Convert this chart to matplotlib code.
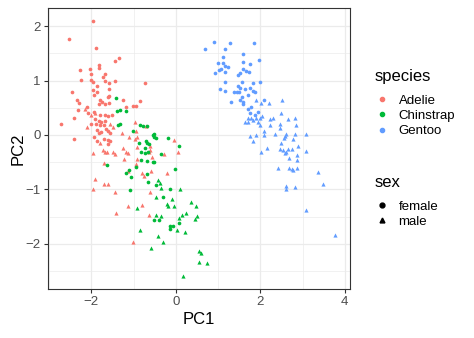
import numpy as np
import matplotlib
matplotlib.use('Agg')
import matplotlib.pyplot as plt
from matplotlib.lines import Line2D

plt.rcParams['font.family'] = ['Liberation Sans', 'DejaVu Sans']

# PC scores, per species and sex
adelie_f = [(-1.97,2.10),(-2.53,1.76),(-1.88,1.60),(-1.34,1.41),(-1.45,1.36),(-2.26,1.19),(-1.81,1.28),(-1.81,1.23),
            (-2.03,1.21),(-2.00,1.12),(-1.67,1.12),(-1.73,1.06),(-2.24,1.01),(-2.01,1.01),(-1.97,0.98),(-1.68,1.00),
            (-1.59,0.95),(-1.45,0.99),(-0.74,0.96),(-1.87,0.89),(-1.96,0.83),(-1.59,0.85),(-2.45,0.79),(-1.86,0.79),
            (-1.58,0.72),(-1.61,0.69),(-2.35,0.65),(-2.29,0.59),(-1.80,0.65),(-1.75,0.61),(-1.26,0.64),(-1.58,0.59),
            (-1.68,0.56),(-1.83,0.56),(-0.85,0.62),(-0.95,0.54),(-1.02,0.54),(-1.18,0.52),(-2.11,0.51),(-2.31,0.45),
            (-2.07,0.40),(-1.79,0.37),(-1.68,0.37),(-1.60,0.35),(-1.52,0.37),(-2.41,0.31),(-1.91,0.29),(-1.83,0.26),
            (-1.77,0.23),(-1.68,0.26),(-2.73,0.21),(-2.01,0.21),(-1.89,0.20),(-1.79,0.18),(-1.71,0.18),(-1.87,0.09),
            (-1.81,0.03),(-1.78,0.06),(-1.65,0.10),(-1.60,0.08),(-1.56,0.03),(-2.41,-0.07),(-1.93,-0.03),(-1.87,-0.12),
            (-1.71,-0.08),(-1.61,-0.09),(-1.56,-0.12),(-1.60,-0.17),(-1.94,0.73),(-1.94,0.42)]
adelie_m = [(-2.14,0.47),(-1.91,0.41),(-2.11,0.15),(-1.56,0.20),(-1.49,0.15),(-0.97,0.23),(-0.71,0.17),(-1.28,0.03),
            (-0.94,0.08),(-1.79,-0.14),(-1.11,-0.04),(-0.96,-0.08),(-0.91,-0.03),(-2.02,0.37),(-0.05,-0.09),(0.06,-0.32),
            (-0.60,-0.21),(-1.95,-0.34),(-1.73,-0.28),(-1.68,-0.31),(-1.64,-0.32),(-1.44,-0.35),(-1.49,-0.31),(-1.24,-0.24),
            (-1.18,-0.31),(-1.14,-0.34),(-0.92,-0.23),(-0.63,-0.31),(-0.60,-0.28),(-0.28,-0.35),(-0.57,-0.40),(-1.23,-0.45),
            (-0.92,-0.45),(-1.71,-0.51),(-0.95,-0.53),(-1.13,-0.66),(-0.79,-0.70),(-0.76,-0.75),(-0.59,-0.67),(-0.21,-0.69),
            (-1.91,-0.81),(-1.70,-0.91),(-1.60,-0.91),(-1.95,-1.00),(-1.44,-1.04),(-0.60,-1.04),(-1.13,-1.30),(-0.81,-1.28),
            (-1.41,-1.44),(-0.64,-1.47),(-1.01,-1.97)]
chinstrap_f = [(-1.41,0.68),(-1.40,0.44),(-1.33,0.45),(-1.19,0.44),(-1.37,0.18),(-1.32,0.20),(-0.85,0.18),(-0.77,0.17),
               (-0.69,0.17),(-1.02,0.08),(-0.53,0.00),(-0.51,-0.04),(-0.88,-0.15),(-0.69,-0.14),(-0.82,-0.32),(-0.74,-0.34),
               (-0.65,-0.31),(-0.73,-0.24),(-0.82,-0.46),(-0.69,-0.48),(-0.53,-0.50),(-1.64,-0.55),(-1.10,-0.64),(-1.18,-0.69),
               (-1.07,-0.77),(-0.94,-0.58),(-0.69,-0.72),(-0.65,-0.87),(-1.08,-1.01),(-0.52,0.02),(-0.46,-0.06),(-0.18,-0.06),
               (0.08,-0.20),(-0.71,-0.12),(-0.63,-0.17),(-0.34,-0.35),(-0.51,-0.50),(-0.03,-0.63),(-0.47,-0.92),(-0.14,-1.00),
               (-0.30,-1.14),(-0.52,-1.57),(-0.39,-1.57),(-0.14,-1.67),(-0.06,-1.67),(-0.13,-1.73),(0.07,-1.61)]
chinstrap_m = [(-0.42,-0.82),(-0.38,-0.89),(-0.36,-0.98),(0.11,-1.00),(-0.47,-1.14),(-0.08,-1.17),(-0.22,-1.27),(-0.18,-1.30),
               (-0.05,-1.30),(0.37,-1.24),(0.47,-1.30),(-0.92,-1.35),(-0.47,-1.47),(-0.34,-1.49),(0.14,-1.47),(0.25,-1.43),
               (0.08,-1.53),(0.49,-1.48),(0.45,-1.55),(0.02,-1.74),(-0.84,-1.74),(0.21,-1.79),(-0.42,-1.85),(-0.30,-1.97),
               (-0.58,-2.07),(0.55,-2.14),(0.59,-2.17),(0.55,-2.34),(0.73,-2.35),(0.17,-2.59)]
gentoo_f = [(0.70,1.57),(0.91,1.70),(1.17,1.58),(1.28,1.69),(1.85,1.68),(1.11,1.43),(1.59,1.48),(0.99,1.33),(1.12,1.32),
            (1.16,1.27),(1.60,1.34),(1.75,1.30),(1.96,1.38),(1.24,1.25),(1.07,1.22),(1.03,1.19),(0.92,1.14),(1.16,1.15),
            (1.60,1.21),(1.67,1.18),(1.74,1.16),(1.52,1.13),(1.48,1.11),(1.16,0.98),(1.57,0.98),(1.83,0.95),(1.99,0.98),
            (1.48,0.89),(1.52,0.86),(1.64,0.84),(1.75,0.87),(1.83,0.80),(1.87,0.78),(1.04,0.84),(1.16,0.81),(1.38,0.78),
            (1.44,0.79),(1.50,0.78),(1.56,0.70),(1.53,0.64),(1.60,0.61),(1.58,0.57),(1.71,0.73),(1.30,0.60),(2.09,0.64),
            (1.79,0.52),(1.71,0.47),(1.75,0.41),(1.95,0.43),(1.87,0.37)]
gentoo_m = [(1.89,0.64),(2.21,0.58),(2.52,0.64),(2.01,0.58),(1.71,0.32),(1.79,0.31),(1.83,0.28),(1.91,0.32),(1.99,0.31),
            (2.03,0.35),(1.64,0.24),(1.70,0.23),(2.50,0.40),(2.23,0.29),(2.31,0.31),(2.66,0.29),(2.82,0.32),(1.94,0.23),
            (1.99,0.18),(2.23,0.18),(2.46,0.20),(2.46,0.12),(2.84,0.18),(1.75,-0.02),(1.90,0.00),(1.83,-0.11),(2.09,0.08),
            (2.09,0.00),(2.35,0.01),(2.58,-0.02),(2.62,0.01),(2.57,-0.06),(2.82,0.01),(3.08,0.02),(2.78,-0.08),(2.50,-0.15),
            (2.90,-0.20),(2.15,-0.24),(2.46,-0.26),(2.54,-0.28),(2.66,-0.26),(2.74,-0.26),(2.58,-0.34),(2.62,-0.32),
            (2.01,-0.32),(3.08,-0.29),(2.88,-0.37),(2.68,-0.43),(2.88,-0.46),(2.43,-0.61),(2.68,-0.61),(2.76,-0.62),
            (2.78,-0.65),(2.87,-0.61),(3.37,-0.68),(3.48,-0.91),(2.60,-0.94),(2.62,-1.00),(2.82,-0.96),(3.08,-1.38),
            (3.78,-1.83)]

species = ['Adelie', 'Chinstrap', 'Gentoo']
sexes = ['female', 'male']
colors = {'Adelie': '#F8766D', 'Chinstrap': '#00BA38', 'Gentoo': '#619CFF'}
markers = {'female': 'o', 'male': '^'}
data = {('Adelie', 'female'): adelie_f, ('Adelie', 'male'): adelie_m,
        ('Chinstrap', 'female'): chinstrap_f, ('Chinstrap', 'male'): chinstrap_m,
        ('Gentoo', 'female'): gentoo_f, ('Gentoo', 'male'): gentoo_m}

fig = plt.figure(figsize=(4.74, 3.38), dpi=100)
ax = fig.add_axes([0.101, 0.145, 0.637, 0.831])

for sp in species:
    for sx in sexes:
        pts = np.array(data[(sp, sx)])
        ax.scatter(pts[:, 0], pts[:, 1], s=7 if sx == 'female' else 9, marker=markers[sx],
                   color=colors[sp], linewidths=0, zorder=3)

ax.set_xlim(-3.03, 4.12)
ax.set_ylim(-2.83, 2.33)
ax.set_xticks([-2, 0, 2, 4])
ax.set_yticks([-2, -1, 0, 1, 2])
ax.set_xticks([-3, -1, 1, 3], minor=True)
ax.set_yticks([-2.5, -1.5, -0.5, 0.5, 1.5], minor=True)
ax.grid(which='major', color='#EBEBEB', linewidth=0.9, zorder=0)
ax.grid(which='minor', color='#EBEBEB', linewidth=0.5, zorder=0)
ax.set_axisbelow(True)
ax.tick_params(which='major', length=3, width=0.8, color='#333333', labelcolor='#4D4D4D', labelsize=9.5, pad=2)
ax.tick_params(which='minor', length=0)
for s in ax.spines.values():
    s.set_color('#333333')
    s.set_linewidth(0.8)

ax.set_xlabel('PC1', fontsize=12, labelpad=3)
ax.set_ylabel('PC2', fontsize=12, labelpad=0)

# legends: titles as text, keys through fig.legend
fig.text(0.791, 0.773, 'species', fontsize=12, va='center', ha='left')
fig.text(0.791, 0.459, 'sex', fontsize=12, va='center', ha='left')
sp_handles = [Line2D([], [], linestyle='none', marker='o', markersize=3, color=colors[sp], label=sp) for sp in species]
sx_handles = [Line2D([], [], linestyle='none', marker=markers[sx], markersize=3.5, color='black', label=sx) for sx in sexes]
for handles, ymid in [(sp_handles, 0.657), (sx_handles, 0.366)]:
    fig.legend(handles=handles, loc='center left', bbox_to_anchor=(0.795, ymid),
               frameon=False, fontsize=9.5, handlelength=0.8, handletextpad=0.85,
               labelspacing=0.22, borderpad=0, borderaxespad=0)

plt.savefig('out.png', dpi=100)
